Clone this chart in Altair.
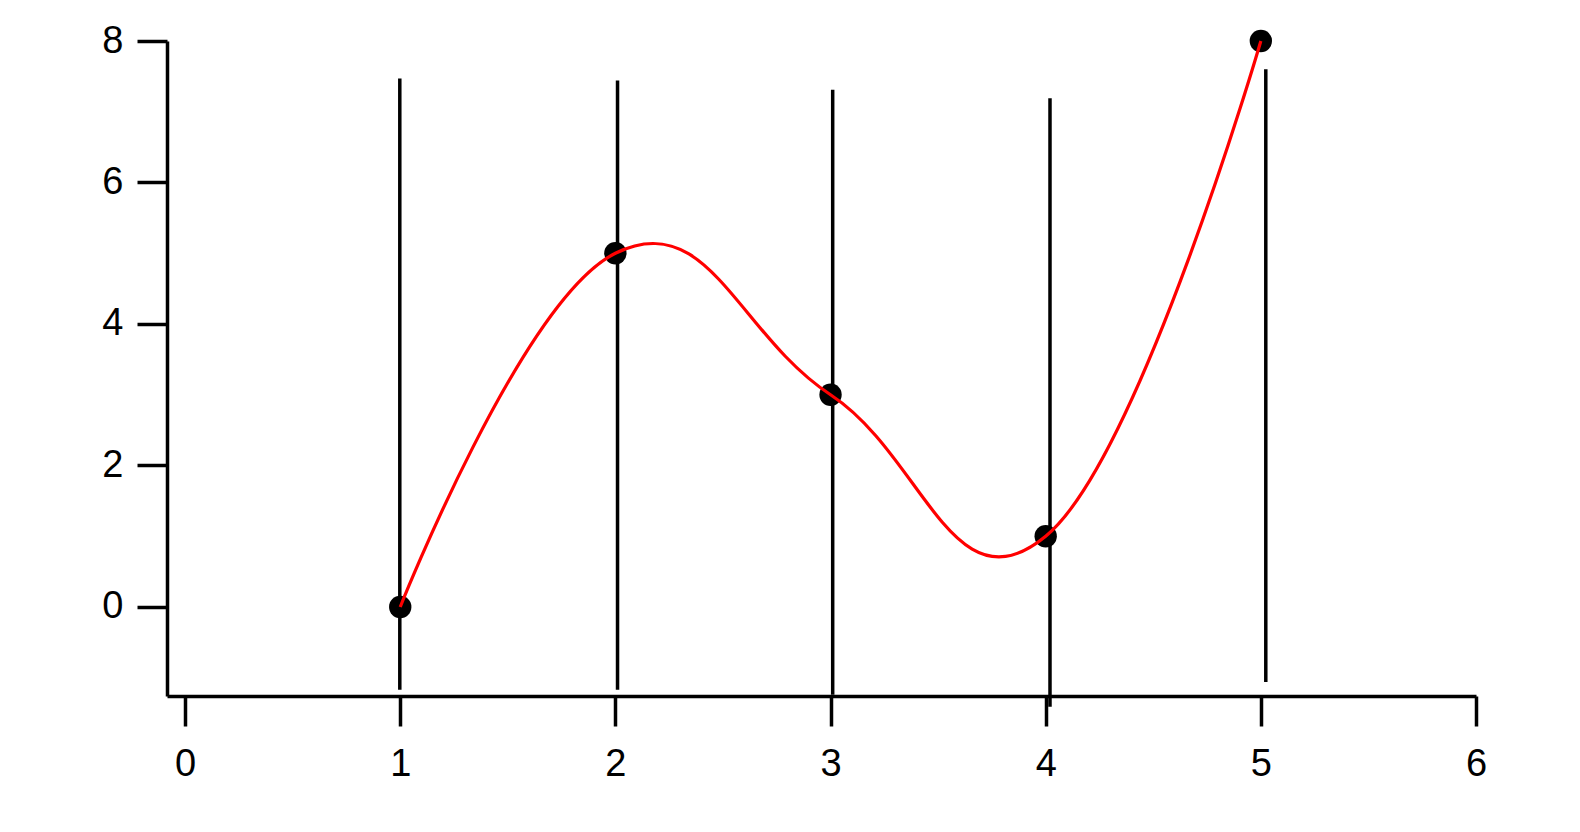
import altair as alt
import pandas as pd

# data points
x_vals = [1, 2, 3, 4, 5]
y_vals = [0, 5, 3, 1, 8]

# vertical lines (x position, top, bottom)
rule_x = [0.998, 2.01, 3.01, 4.02, 5.023]
rule_top = [7.47, 7.44, 7.31, 7.19, 7.60]
rule_bottom = [-1.17, -1.17, -1.24, -1.41, -1.06]

# axis ticks
x_ticks = [0, 1, 2, 3, 4, 5, 6]
y_ticks = [0, 2, 4, 6, 8]

pts = pd.DataFrame({"x": x_vals, "y": y_vals})
rules = pd.DataFrame({"x": rule_x, "top": rule_top, "bottom": rule_bottom})

xscale = alt.Scale(domain=[-0.084, 6], nice=False, zero=False)
yscale = alt.Scale(domain=[-1.258, 8], nice=False, zero=False)

common_axis = dict(
    title=None, grid=False, tickSize=30, tickWidth=3.5, domainWidth=3.5,
    domainColor="black", tickColor="black", labelFont="Liberation Sans",
    labelFontSize=38, labelColor="black", labelFlush=False, labelOverlap=False,
    format="d",
)
xaxis = alt.Axis(values=x_ticks, labelPadding=19, **common_axis)
yaxis = alt.Axis(values=y_ticks, labelPadding=14, **common_axis)

rule_layer = alt.Chart(rules).mark_rule(color="black", strokeWidth=3.5).encode(
    x=alt.X("x:Q", scale=xscale, axis=xaxis),
    y=alt.Y("top:Q", scale=yscale, axis=yaxis),
    y2="bottom:Q",
)

point_layer = alt.Chart(pts).mark_circle(color="black", size=500, opacity=1).encode(
    x=alt.X("x:Q", scale=xscale),
    y=alt.Y("y:Q", scale=yscale),
)

line_layer = alt.Chart(pts).mark_line(
    color="#ff0000", strokeWidth=3.2, interpolate="cardinal", tension=-0.3
).encode(
    x=alt.X("x:Q", scale=xscale),
    y=alt.Y("y:Q", scale=yscale),
)

chart = alt.layer(rule_layer, point_layer, line_layer).properties(
    width=1309,
    height=655,
    autosize=alt.AutoSizeParams(type="none"),
    padding={"left": 159, "top": 33, "right": 80, "bottom": 110},
).configure_view(stroke=None)

chart.save("out.html", embed_options={"renderer": "svg", "actions": False})
